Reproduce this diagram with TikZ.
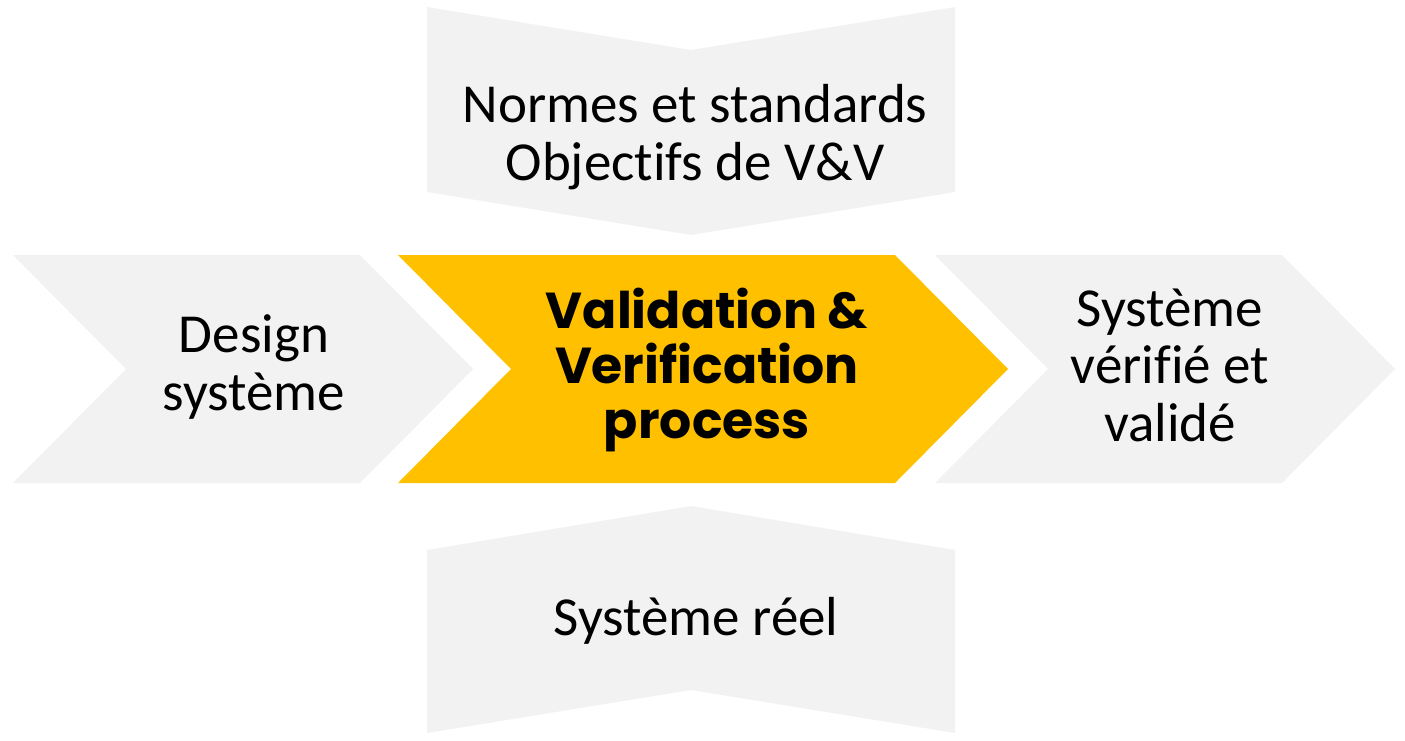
\documentclass[tikz,border=0pt]{standalone}
\usepackage{fontspec}
\setmainfont{Carlito}[Ligatures=NoCommon]
\newfontfamily\vvfont{Poppins}[Ligatures=NoCommon]
\definecolor{boxgray}{HTML}{F2F2F2}
\definecolor{vvyellow}{HTML}{FFC000}
\tikzset{
  grayshape/.style={fill=boxgray,draw=none},
  yellowshape/.style={fill=vvyellow,draw=none},
  graytext/.style={align=center,inner sep=0pt,font=\fontsize{55}{57.5}\selectfont,text=black},
  boldtext/.style={align=center,inner sep=0pt,font=\vvfont\bfseries\fontsize{50.5}{55}\selectfont,text=black},
}
\begin{document}
\begin{tikzpicture}[x=1pt,y=-1pt]
\useasboundingbox (0,0) rectangle (1405,740);
% top chevron (down)
\path[grayshape] (427,7) -- (691,50) -- (955,7) -- (955,192) -- (691,235) -- (427,192) -- cycle;
% bottom chevron (up)
\path[grayshape] (427,550) -- (691,506) -- (955,550) -- (955,733) -- (691,690) -- (427,733) -- cycle;
% left chevron
\path[grayshape] (13,255) -- (360,255) -- (473,369) -- (360,483) -- (13,483) -- (126,369) -- cycle;
% center chevron
\path[yellowshape] (398,255) -- (895,255) -- (1008,369) -- (895,483) -- (398,483) -- (511,369) -- cycle;
% right chevron
\path[grayshape] (935,255) -- (1282,255) -- (1395,369) -- (1282,483) -- (935,483) -- (1048,369) -- cycle;
% texts (base anchor = baseline of the last line)
\node[graytext,anchor=base] (normes) at (695,180) {Normes et standards\\Objectifs de V\&V};
\node[graytext,anchor=base] (design) at (254,410) {Design\\système};
\node[graytext,anchor=base] (sortie) at (1170,441) {Système\\vérifié et\\validé};
\node[graytext,anchor=base] (reel) at (696,635) {Système réel};
\node[boldtext,anchor=base] (vv) at (707,438) {Validation \&\\Verification\\process};
\end{tikzpicture}
\end{document}
